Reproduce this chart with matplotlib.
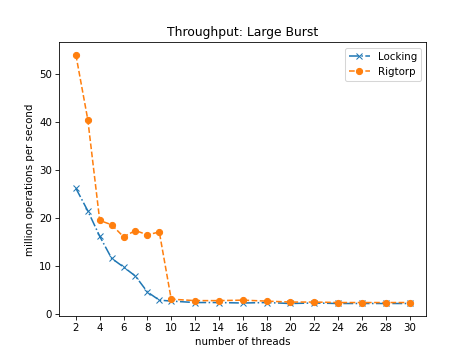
import matplotlib
matplotlib.use("Agg")
import matplotlib.pyplot as plt

threads = [2, 3, 4, 5, 6, 7, 8, 9, 10, 12, 14, 16, 18, 20, 22, 24, 26, 28, 30]
locking = [26.2, 21.5, 16.2, 11.6, 9.8, 7.9, 4.6, 2.9, 2.7, 2.4, 2.4, 2.3, 2.4, 2.2, 2.3, 2.2, 2.2, 2.2, 2.2]
rigtorp = [54.0, 40.5, 19.5, 18.6, 16.1, 17.4, 16.5, 17.1, 3.1, 2.8, 2.8, 2.9, 2.7, 2.5, 2.5, 2.4, 2.4, 2.4, 2.4]
xticks = list(range(2, 31, 2))

fig, ax = plt.subplots(figsize=(6.4, 4.8), dpi=74)
ax.plot(threads, locking, linestyle='-.', marker='x', label='Locking')
ax.plot(threads, rigtorp, linestyle='--', marker='o', label='Rigtorp')
ax.set_xticks(xticks)
ax.set_title('Throughput: Large Burst')
ax.set_xlabel('number of threads')
ax.set_ylabel('million operations per second')
ax.legend()
fig.savefig('out.png', dpi=74)
